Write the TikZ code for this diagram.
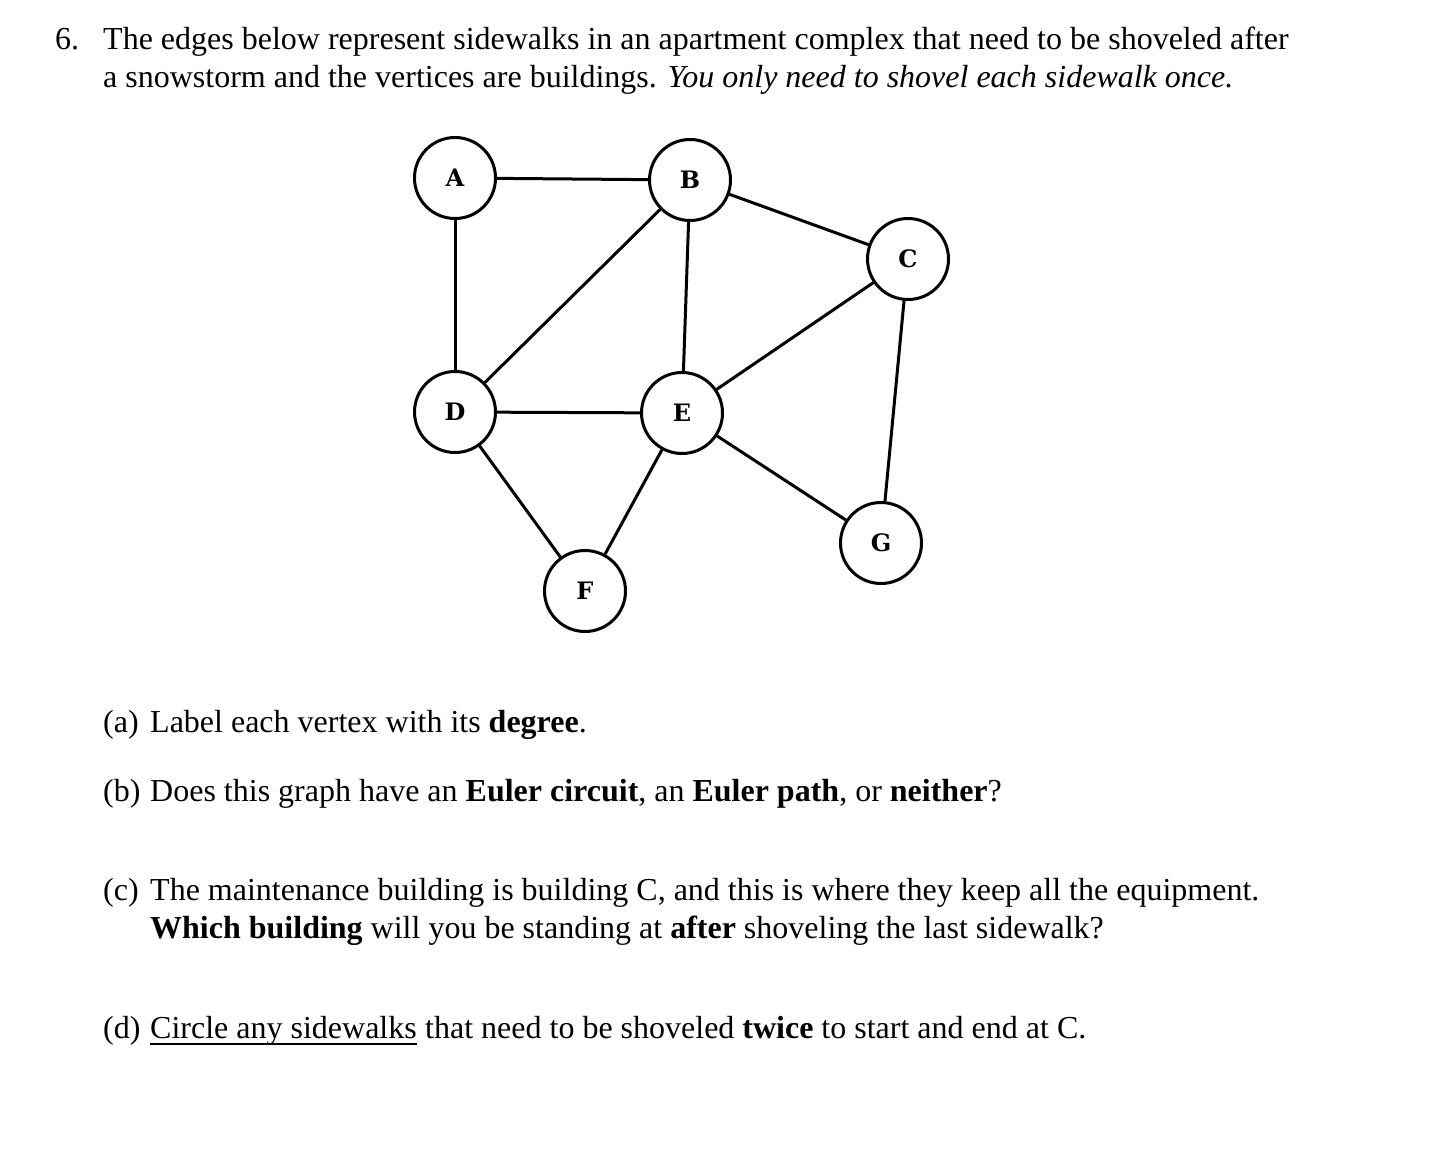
\documentclass[tikz,border=0pt]{standalone}
\usepackage{fontspec}
\setmainfont{Liberation Serif}
\newfontfamily\vfont{DejaVu Serif}[BoldFont={DejaVu Serif Bold}]
\begin{document}
\begin{tikzpicture}[x=1pt,y=-1pt,
  vertex/.style={circle,draw,line width=3pt,minimum size=81pt,inner sep=0pt,fill=white,font=\vfont\bfseries\fontsize{24}{24}\selectfont},
  edge/.style={line width=3pt},
  txt/.style={anchor=base west,inner sep=0pt,font=\fontsize{32}{38}\selectfont}]
\useasboundingbox[fill=white] (0,0) rectangle (1453,1159);
% header
\node[txt] (n6) at (55,49) {6.};
\node[txt] (l1) at (103,49) {The edges below represent sidewalks in an apartment complex that need to be shoveled after};
\node[txt] (l2) at (103,87) {a snowstorm and the vertices are buildings. \textit{You only need to shovel each sidewalk once.}};
% graph
\node[vertex] (A) at (455,178) {A};
\node[vertex] (B) at (690,180) {B};
\node[vertex] (C) at (908,259) {C};
\node[vertex] (D) at (455,412) {D};
\node[vertex] (E) at (682,413) {E};
\node[vertex] (F) at (585,591) {F};
\node[vertex] (G) at (881,543) {G};
\draw[edge] (A) -- (B);
\draw[edge] (A) -- (D);
\draw[edge] (B) -- (D);
\draw[edge] (B) -- (E);
\draw[edge] (B) -- (C);
\draw[edge] (C) -- (E);
\draw[edge] (C) -- (G);
\draw[edge] (D) -- (E);
\draw[edge] (D) -- (F);
\draw[edge] (E) -- (F);
\draw[edge] (E) -- (G);
% questions
\node[txt] (qa) at (103,732) {(a)};
\node[txt] (ta) at (150,732) {Label each vertex with its \textbf{degree}.};
\node[txt] (qb) at (103,801) {(b)};
\node[txt] (tb) at (150,801) {Does this graph have an \textbf{Euler circuit}, an \textbf{Euler path}, or \textbf{neither}?};
\node[txt] (qc) at (103,900) {(c)};
\node[txt] (tc1) at (150,900) {The maintenance building is building C, and this is where they keep all the equipment.};
\node[txt] (tc2) at (150,938) {\textbf{Which building} will you be standing at \textbf{after} shoveling the last sidewalk?};
\node[txt] (qd) at (103,1038) {(d)};
\node[txt] (tdu) at (150,1038) {Circle any sidewalks};
\node[txt] (td) at (tdu.base east) {\ that need to be shoveled \textbf{twice} to start and end at C.};
\draw[line width=2pt] ([yshift=-6pt]tdu.base west) -- ([yshift=-6pt]tdu.base east);
\end{tikzpicture}
\end{document}
